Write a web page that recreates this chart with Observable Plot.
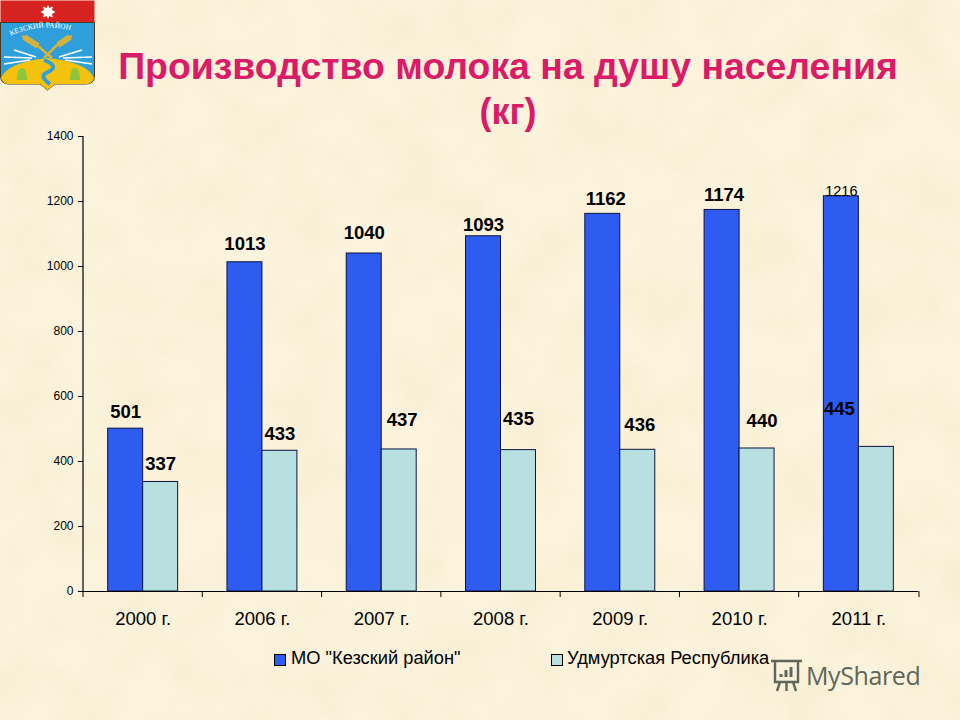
<!DOCTYPE html>
<html lang="ru">
<head>
<meta charset="utf-8">
<script src="https://cdn.jsdelivr.net/npm/d3@7"></script>
<script src="https://cdn.jsdelivr.net/npm/@observablehq/plot@0.6"></script>
<style>
html,body{margin:0;padding:0;width:960px;height:720px;overflow:hidden}
body{position:relative;font-family:"Liberation Sans",Arial,sans-serif;background:#fbf3dc}
#chart{position:absolute;left:0;top:0}
#chart svg{background:transparent;display:block}
.abs{position:absolute;white-space:nowrap}
.title{left:0;width:1016px;text-align:center;color:#d91b68;font-weight:700;line-height:40px}
.leg{font-size:18.3px;color:#000;line-height:20px;top:648px}
.sw{width:10px;height:10px;border:1px solid #000;top:654px}
.mark{left:806px;top:658px;font-family:"Open Sans",sans-serif;font-size:25px;line-height:34px;color:#5f665a;letter-spacing:-.4px}
</style>
</head>
<body>
<svg class="abs" style="left:0;top:0" width="960" height="720" aria-hidden="true">
 <filter id="paper" x="0" y="0" width="100%" height="100%">
  <feTurbulence type="fractalNoise" baseFrequency="0.018" numOctaves="3" seed="7"/>
  <feColorMatrix type="matrix" values="0 0 0 0 0.90  0 0 0 0 0.80  0 0 0 0 0.58  1.6 0 0 0 -0.62"/>
 </filter>
 <rect width="960" height="720" filter="url(#paper)" opacity="0.55"/>
</svg>
<svg class="abs" style="left:0;top:0" width="96" height="92" viewBox="0 0 96 92" role="img" aria-label="Герб">
 <rect x="0.5" y="0.5" width="94" height="22" fill="#d7231f"/>
 <path d="M0.5 22.5H94.5V76Q94.5 84 86 84H55L47.5 90L40 84H9Q0.5 84 0.5 76Z" fill="#2f9fdc" stroke="#4a3a20"/>
 <path d="M1 78Q8 62 47.5 58Q87 62 94 78Q92 84 86 84H55L47.5 90L40 84H9Q3 84 1 78Z" fill="#f4c20d"/>
 <path d="M48 5l1.5 3 3.5-1.5-1 3.500 3.500 2-3.500 2 1 3.500-3.500-1.500-1.500 3-1.500-3-3.500 1.500 1-3.500-3.500-2 3.500-2-1-3.500 3.500 1.500z" fill="#fff"/>
 <path d="M44 60Q60 66 48 72Q38 76 50 84" fill="none" stroke="#2f9fdc" stroke-width="4"/>
 <path d="M52 58L38 46L22 36M44 58L56 46L72 36" stroke="#d6b23a" stroke-width="2.500" fill="none"/>
 <path d="M24 37L38 46M70 37L58 45" stroke="#d6b23a" stroke-width="6"/>
 <path d="M4 64L30 60M4 57L32 58M14 50L36 57M92 64L65 60M92 57L63 58M82 50L59 57" stroke="#fff" stroke-width="1.600"/>
 <path d="M17 80q0-12 5-12t5 12zM70 80q0-12 5-12t5 12z" fill="#8cc63f"/>
 <path id="arc" d="M8 37Q48 18 90 37" fill="none"/>
 <text font-size="7.500" fill="#fff" font-family="Liberation Serif"><textPath href="#arc" startOffset="3">КЕЗСКИЙ РАЙОН</textPath></text>
</svg>
<div class="abs title" style="top:46px;font-size:37.4px">Производство молока на душу населения</div>
<div class="abs title" style="top:92px;font-size:36px">(кг)</div>
<div id="chart"></div>
<div class="abs sw" style="left:274px;background:#2f5cf0"></div>
<div class="abs leg" style="left:291px" id="leg0"></div>
<div class="abs sw" style="left:551px;background:#b9e0e0"></div>
<div class="abs leg" style="left:567px" id="leg1"></div>
<svg class="abs" style="left:769px;top:657px" width="36" height="36" viewBox="0 0 36 36" fill="none" stroke="#5f665a" stroke-width="2.400" aria-hidden="true">
 <path d="M2 4H33M6 4V25H29V4M11 25L8 34M24 25L27 34M17.500 25V34"/>
 <path d="M12 20V17M17 20V13M22 20V10" stroke-width="3"/>
</svg>
<div class="abs mark">MyShared</div>
<script>
const years = ["2000 г.","2006 г.","2007 г.","2008 г.","2009 г.","2010 г.","2011 г."];
const seriesNames = ['МО "Кезский район"',"Удмуртская Республика"];
const kezValues = [501,1013,1040,1093,1162,1174,1216];
const udmValues = [337,433,437,435,436,440,445];
const yTicks = [0,200,400,600,800,1000,1200,1400];

// hand placement of the value labels, as in the original slide
const kezLabelDx = [0,0,0,0,3,2,0];
const kezLabelDy = [-17,-18,-20,-11,-15,-15,-5];
const udmLabelDx = [0,0,3,0,2,5,-37];
const udmLabelDy = [-18,-17,-29,-31,-25,-27,-38];

const rows = [
  ...years.map((year,i)=>({year,series:"kez",value:kezValues[i],dx:kezLabelDx[i],dy:kezLabelDy[i]})),
  ...years.map((year,i)=>({year,series:"udm",value:udmValues[i],dx:udmLabelDx[i],dy:udmLabelDy[i]}))
];
const bold = rows.filter(d=>d.value!==1216);
const plain = rows.filter(d=>d.value===1216);
const edgeDx = -42.65;

const labelMarks = (data,opts)=>d3.groups(data,d=>`${d.dx},${d.dy}`).map(([,g])=>
  Plot.text(g,{fx:"year",x:"series",y:"value",text:d=>String(d.value),dx:g[0].dx,dy:g[0].dy,fill:"#000",...opts}));

const plot = Plot.plot({
  width:960,height:720,
  marginTop:136,marginBottom:129,marginLeft:83,marginRight:42,
  style:{background:"transparent",fontFamily:'"Liberation Sans",Arial,sans-serif',color:"#000"},
  fx:{domain:years,padding:0,round:false,label:null},
  x:{domain:["kez","udm"],paddingInner:0,paddingOuter:0.705,round:false,axis:null,label:null},
  y:{domain:[0,1400],label:null},
  color:{domain:["kez","udm"],range:["#2f5cf0","#b9e0e0"]},
  marks:[
    Plot.barY(rows,{fx:"year",x:"series",y:"value",fill:"series",stroke:"#0a1440",strokeWidth:1}),
    Plot.ruleY([0],{stroke:"#000",strokeWidth:1.2}),
    Plot.ruleX(years.slice(0,1),{fx:d=>d,x:()=>"kez",y1:0,y2:1400,dx:edgeDx,stroke:"#000",strokeWidth:1.2}),
    Plot.ruleX(years,{fx:d=>d,x:()=>"kez",y1:0,y2:0,dx:edgeDx,insetBottom:-6,stroke:"#000"}),
    Plot.ruleX(years.slice(-1),{fx:d=>d,x:()=>"udm",y1:0,y2:0,dx:-edgeDx,insetBottom:-6,stroke:"#000"}),
    Plot.axisY({ticks:yTicks,anchor:"left",tickSize:5,tickPadding:5,fontSize:12,stroke:"#000",fill:"#000",label:null,tickFormat:d=>String(d),style:{letterSpacing:"-0.6px"}}),
    Plot.axisFx({anchor:"bottom",tickSize:0,tickPadding:20,fontSize:18.5,fill:"#000",label:null}),
    ...labelMarks(bold,{fontWeight:"bold",fontSize:18.5}),
    ...labelMarks(plain,{fontSize:14.5})
  ]
});
document.getElementById("chart").append(plot);
document.getElementById("leg0").textContent = seriesNames[0];
document.getElementById("leg1").textContent = seriesNames[1];
</script>
</body>
</html>
